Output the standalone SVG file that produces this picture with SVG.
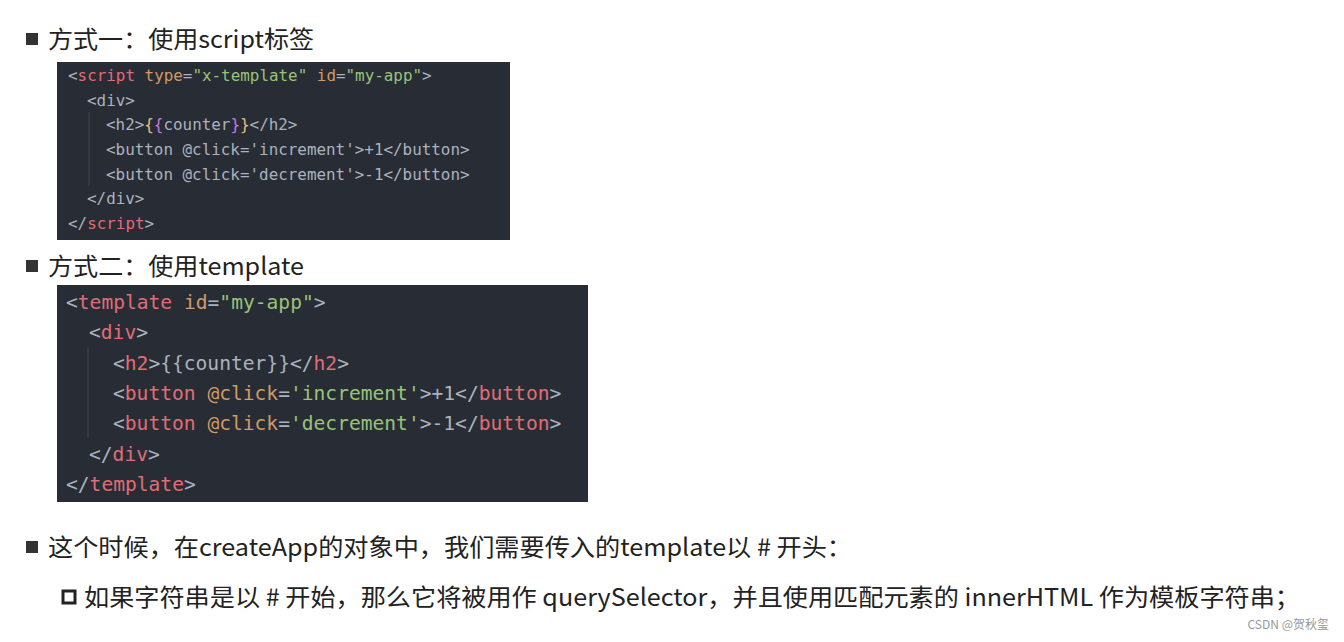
<svg xmlns="http://www.w3.org/2000/svg" width="1344" height="642" viewBox="0 0 1344 642">
<style>
.h{font-family:"Noto Sans CJK SC","Noto Sans",sans-serif;font-size:24px;fill:#222}
.c1{font-family:"DejaVu Sans Mono",monospace;font-size:15.9px;fill:#abb2bf}
.c2{font-family:"DejaVu Sans Mono",monospace;font-size:19.6px;fill:#abb2bf}
.t{fill:#e06c75}.a{fill:#d19a66}.s{fill:#98c379}.y{fill:#e5c07b}.p{fill:#c678dd}
.g{stroke:#3e4451;stroke-width:1}
</style>
<rect width="1344" height="642" fill="#fff"/>
<g id="heading1"><rect x="26" y="33" width="12" height="12" fill="#333"/><text class="h" x="48" y="48" textLength="266" lengthAdjust="spacingAndGlyphs">方式一：使用script标签</text></g>
<g id="code1">
<rect x="57" y="62" width="453" height="178" fill="#282c34"/>
<line class="g" x1="89" y1="112" x2="89" y2="186"/>
<text class="c1" x="68" y="81"><tspan>&lt;</tspan><tspan class="t">script</tspan> <tspan class="a">type</tspan>=<tspan class="s">"x-template"</tspan> <tspan class="a">id</tspan>=<tspan class="s">"my-app"</tspan>&gt;</text>
<text class="c1" x="87" y="106">&lt;div&gt;</text>
<text class="c1" x="106" y="130">&lt;h2&gt;<tspan class="y">{</tspan><tspan class="p">{</tspan>counter<tspan class="p">}</tspan><tspan class="y">}</tspan>&lt;/h2&gt;</text>
<text class="c1" x="106" y="155">&lt;button @click='increment'&gt;+1&lt;/button&gt;</text>
<text class="c1" x="106" y="180">&lt;button @click='decrement'&gt;-1&lt;/button&gt;</text>
<text class="c1" x="87" y="204">&lt;/div&gt;</text>
<text class="c1" x="68" y="229">&lt;/<tspan class="t">script</tspan>&gt;</text>
</g>
<g id="heading2"><rect x="26" y="260" width="12" height="12" fill="#333"/><text class="h" x="48" y="275" textLength="256" lengthAdjust="spacingAndGlyphs">方式二：使用template</text></g>
<g id="code2">
<rect x="57" y="285" width="531" height="217" fill="#282c34"/>
<line class="g" x1="88" y1="348" x2="88" y2="438"/>
<text class="c2" x="66" y="309">&lt;<tspan class="t">template</tspan> <tspan class="a">id</tspan>=<tspan class="s">"my-app"</tspan>&gt;</text>
<text class="c2" x="89" y="339">&lt;<tspan class="t">div</tspan>&gt;</text>
<text class="c2" x="113" y="370">&lt;<tspan class="t">h2</tspan>&gt;{{counter}}&lt;/<tspan class="t">h2</tspan>&gt;</text>
<text class="c2" x="113" y="400">&lt;<tspan class="t">button</tspan> <tspan class="a">@click</tspan>=<tspan class="s">'increment'</tspan>&gt;+1&lt;/<tspan class="t">button</tspan>&gt;</text>
<text class="c2" x="113" y="430">&lt;<tspan class="t">button</tspan> <tspan class="a">@click</tspan>=<tspan class="s">'decrement'</tspan>&gt;-1&lt;/<tspan class="t">button</tspan>&gt;</text>
<text class="c2" x="89" y="461">&lt;/<tspan class="t">div</tspan>&gt;</text>
<text class="c2" x="66" y="491">&lt;/<tspan class="t">template</tspan>&gt;</text>
</g>
<g id="heading3"><rect x="26" y="541" width="12" height="12" fill="#333"/><text class="h" x="48" y="556" textLength="804" lengthAdjust="spacingAndGlyphs">这个时候，在createApp的对象中，我们需要传入的template以 # 开头：</text></g>
<g id="item1"><rect x="63" y="591" width="12" height="12" fill="none" stroke="#222" stroke-width="3"/><text class="h" x="84" y="606" textLength="1216" lengthAdjust="spacingAndGlyphs">如果字符串是以 # 开始，那么它将被用作 querySelector，并且使用匹配元素的 innerHTML 作为模板字符串；</text></g>
<text x="1329" y="629" text-anchor="end" style="font-family:'Noto Sans CJK SC',sans-serif;font-size:12px;fill:#999">CSDN @贺秋玺</text>
</svg>
